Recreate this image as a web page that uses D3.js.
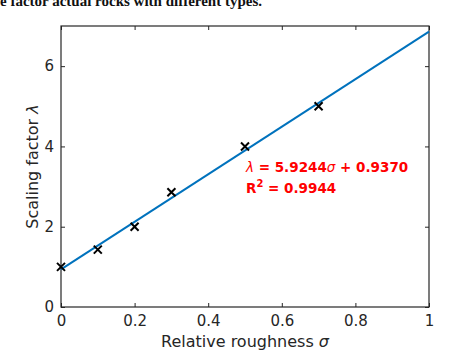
<!DOCTYPE html>
<html>
<head>
<meta charset="utf-8">
<script src="https://cdn.jsdelivr.net/npm/d3@7"></script>
<style>
  body { margin: 0; background: #fff; }
  svg { display: block; }
</style>
</head>
<body>
<div id="chart"></div>
<script>
// measured points (relative roughness vs scaling factor)
var sigma = [0, 0.1, 0.2, 0.3, 0.5, 0.7];
var lambda = [1.0, 1.43, 2.0, 2.86, 4.0, 5.0];
var fitSlope = 5.9244, fitIntercept = 0.9370;
var xTicks = [0, 0.2, 0.4, 0.6, 0.8, 1];
var yTicks = [0, 2, 4, 6];

var W = 474, H = 356;
var margin = { top: 26, right: 45, bottom: 49, left: 61 },
  width = W - margin.left - margin.right,
  height = H - margin.top - margin.bottom;

var svg = d3.select("#chart").append("svg")
  .attr("width", W).attr("height", H);

// cropped caption from the paper page above the figure
svg.append("text")
  .attr("x", 0).attr("y", 6)
  .attr("font-family", "Liberation Serif").attr("font-weight", "bold")
  .attr("font-size", 15).attr("fill", "#111")
  .text("e factor actual rocks with different types.");

var g = svg.append("g")
  .attr("transform", "translate(" + margin.left + "," + margin.top + ")");

var x = d3.scaleLinear().domain([0, 1]).range([0, width]);
var y = d3.scaleLinear().domain([0, 7]).range([height, 0]);

var axisColor = "#262626";
var font = "DejaVu Sans";

function styleAxis(sel, labels) {
  sel.select(".domain").remove();
  sel.selectAll(".tick line").attr("stroke", axisColor).attr("stroke-width", 1);
  sel.selectAll(".tick text")
    .attr("fill", labels ? axisColor : "none")
    .attr("font-family", font).attr("font-size", 15);
}

g.append("g").attr("transform", "translate(0," + height + ")")
  .call(d3.axisBottom(x).tickValues(xTicks).tickSize(-4).tickPadding(8).tickFormat(d3.format("")))
  .call(styleAxis, true);
g.append("g")
  .call(d3.axisTop(x).tickValues(xTicks).tickSize(-4).tickFormat(""))
  .call(styleAxis, false);
g.append("g")
  .call(d3.axisLeft(y).tickValues(yTicks).tickSize(-4).tickPadding(7).tickFormat(d3.format("")))
  .call(styleAxis, true);
g.append("g").attr("transform", "translate(" + width + ",0)")
  .call(d3.axisRight(y).tickValues(yTicks).tickSize(-4).tickFormat(""))
  .call(styleAxis, false);

g.append("rect")
  .attr("width", width).attr("height", height)
  .attr("fill", "none").attr("stroke", axisColor).attr("stroke-width", 1.2);

// fitted line
var line = d3.line().x(function (d) { return x(d); })
  .y(function (d) { return y(fitSlope * d + fitIntercept); });
g.append("path").datum([0, 1])
  .attr("d", line)
  .attr("fill", "none").attr("stroke", "#0072BD").attr("stroke-width", 2);

// x markers
var s = 4;
g.selectAll(".pt").data(sigma).enter().append("path")
  .attr("class", "pt")
  .attr("transform", function (d, i) { return "translate(" + x(d) + "," + y(lambda[i]) + ")"; })
  .attr("d", "M" + (-s) + "," + (-s) + "L" + s + "," + s + "M" + (-s) + "," + s + "L" + s + "," + (-s))
  .attr("stroke", "#000").attr("stroke-width", 2);

// equation
var eq = g.append("text")
  .attr("x", 185).attr("y", 146)
  .attr("font-family", font).attr("font-weight", "bold")
  .attr("font-size", 13.5).attr("fill", "#f00");
eq.append("tspan").attr("font-style", "italic").attr("font-weight", "normal").text("λ");
eq.append("tspan").text(" = " + fitSlope.toFixed(4));
eq.append("tspan").attr("font-style", "italic").attr("font-weight", "normal").text("σ");
eq.append("tspan").text(" + " + fitIntercept.toFixed(4));

var r2 = g.append("text")
  .attr("x", 185).attr("y", 167)
  .attr("font-family", font).attr("font-weight", "bold")
  .attr("font-size", 13.5).attr("fill", "#f00");
r2.append("tspan").text("R");
r2.append("tspan").attr("dy", -6).attr("font-size", 10).text("2");
r2.append("tspan").attr("dy", 6).text(" = 0.9944");

// axis labels
var xl = svg.append("text")
  .attr("x", margin.left + width / 2).attr("y", 347)
  .attr("text-anchor", "middle")
  .attr("font-family", font).attr("font-size", 16).attr("fill", axisColor);
xl.append("tspan").text("Relative roughness ");
xl.append("tspan").attr("font-style", "italic").text("σ");

var yl = svg.append("text")
  .attr("transform", "translate(38," + (margin.top + height / 2) + ") rotate(-90)")
  .attr("text-anchor", "middle")
  .attr("font-family", font).attr("font-size", 16).attr("fill", axisColor);
yl.append("tspan").text("Scaling factor ");
yl.append("tspan").attr("font-style", "italic").text("λ");
</script>
</body>
</html>
